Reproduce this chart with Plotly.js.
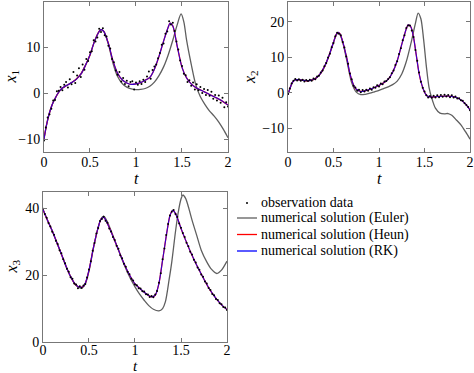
<!DOCTYPE html>
<html>
<head>
<meta charset="utf-8">
<script src="https://cdn.plot.ly/plotly-3.0.1.min.js"></script>
<style>html,body{margin:0;padding:0;background:#fff}#chart{width:474px;height:373px}</style>
</head>
<body>
<div id="chart"></div>
<script>
// ---------- observation times (shared) ----------
const tObs = [0.00,0.02,0.04,0.06,0.08,0.10,0.12,0.14,0.16,0.18,0.20,0.22,0.24,0.26,0.28,0.30,0.32,0.34,0.36,0.38,0.40,0.42,0.44,0.46,0.48,0.50,0.52,0.54,0.56,0.58,0.60,0.62,0.64,0.66,0.68,0.70,0.72,0.74,0.76,0.78,0.80,0.82,0.84,0.86,0.88,0.90,0.92,0.94,0.96,0.98,1.00,1.02,1.04,1.06,1.08,1.10,1.12,1.14,1.16,1.18,1.20,1.22,1.24,1.26,1.28,1.30,1.32,1.34,1.36,1.38,1.40,1.42,1.44,1.46,1.48,1.50,1.52,1.54,1.56,1.58,1.60,1.62,1.64,1.66,1.68,1.70,1.72,1.74,1.76,1.78,1.80,1.82,1.84,1.86,1.88,1.90,1.92,1.94,1.96,1.98,2.00];

// ---------- observation data ----------
const x1Obs = [-10.3,-7.5,-5.3,-4.6,-3.4,-1.6,-1.5,0.4,0.5,1.3,0.6,1.8,2.4,1.2,3.0,1.9,4.6,2.2,3.8,5.4,3.5,6.2,5.1,7.4,7.0,8.9,9.1,11.5,11.2,12.1,14.0,13.3,14.1,12.6,12.3,10.3,9.7,7.4,6.7,4.9,4.0,4.6,2.5,3.3,2.0,2.7,1.5,2.4,2.6,0.8,2.3,1.8,2.6,2.0,2.9,2.4,3.6,4.7,3.1,5.0,5.8,6.2,7.6,8.7,10.5,10.8,12.9,13.4,15.6,14.9,15.3,13.5,11.2,9.5,7.1,5.9,4.2,3.9,2.4,2.8,1.6,2.3,0.8,1.9,0.6,1.3,0.0,0.9,-0.4,0.7,-0.6,0.3,-1.2,-0.4,-1.6,-0.5,-2.1,-1.0,-3.1,-2.0,-2.9];
const x2Obs = [-0.3,1.2,2.6,3.4,3.9,3.5,3.8,3.4,3.7,3.2,3.6,3.3,3.7,3.4,4.0,3.8,4.6,4.8,5.7,6.3,7.5,8.4,9.9,11.0,12.8,14.0,15.9,16.9,16.6,16.2,14.3,12.7,10.2,8.2,5.4,3.8,2.0,1.5,0.6,0.9,0.2,0.8,0.4,0.9,0.6,1.2,0.9,1.6,1.4,2.1,1.8,2.6,2.4,3.2,3.3,3.9,4.4,5.5,6.3,7.8,8.9,10.9,12.5,14.8,16.2,18.2,18.9,18.9,17.5,15.7,12.0,9.0,5.7,3.1,1.4,0.4,-0.7,-1.3,-0.9,-1.4,-0.8,-1.3,-0.7,-1.2,-0.6,-1.1,-0.5,-1.0,-0.6,-1.2,-0.7,-1.3,-1.0,-1.6,-1.5,-2.1,-2.2,-2.9,-3.4,-4.0,-4.9];
const x3Obs = [39.9,38.3,37.2,35.6,34.6,33.0,32.1,30.3,29.3,27.5,26.6,24.8,23.6,21.9,21.0,19.4,18.9,17.5,17.2,16.1,16.7,16.2,16.9,17.4,19.3,21.7,24.2,27.3,29.6,32.5,34.1,36.2,36.8,37.5,36.3,35.7,34.0,33.1,31.4,30.5,28.8,27.9,26.0,25.1,23.4,22.5,21.0,20.3,18.9,18.4,17.2,17.0,16.1,16.0,15.2,15.1,14.3,14.2,13.5,13.8,13.4,14.2,15.3,17.7,20.6,24.8,28.0,32.0,35.3,37.9,39.0,39.5,38.3,37.4,35.5,34.2,32.6,31.4,29.7,28.7,27.0,26.2,24.6,23.8,22.3,21.6,20.2,19.5,18.1,17.5,16.2,15.6,14.4,14.0,12.9,12.6,11.6,11.3,10.5,10.3,9.6];

// ---------- numerical solutions (RK / Heun coincide) ----------
const t1RK = [0,0.025,0.05,0.075,0.1,0.125,0.15,0.175,0.2,0.25,0.3,0.35,0.4,0.45,0.5,0.55,0.6,0.62,0.65,0.7,0.75,0.8,0.85,0.9,0.95,1.0,1.05,1.1,1.15,1.2,1.25,1.3,1.35,1.37,1.4,1.45,1.5,1.55,1.6,1.65,1.7,1.75,1.8,1.85,1.9,1.95,2.0];
const x1RK = [-10,-7.2,-5.0,-3.3,-2.0,-1.0,-0.1,0.6,1.1,1.7,2.3,3.0,4.1,6.0,8.3,11.3,13.4,13.8,13.4,10.8,7.0,4.3,2.9,2.2,1.9,2.0,2.3,2.8,3.4,5.2,8.0,11.3,14.3,15.2,14.6,10.0,5.6,3.3,2.0,1.2,0.7,0.2,-0.3,-0.8,-1.3,-1.9,-2.6];
const t2RK = [0,0.025,0.05,0.075,0.1,0.15,0.2,0.25,0.3,0.35,0.4,0.45,0.5,0.53,0.55,0.57,0.6,0.625,0.65,0.675,0.7,0.725,0.75,0.8,0.85,0.9,0.95,1.0,1.05,1.1,1.15,1.2,1.25,1.3,1.32,1.35,1.38,1.41,1.44,1.47,1.5,1.53,1.57,1.65,1.75,1.8,1.85,1.9,1.95,2.0];
const x2RK = [-0.5,1.5,3.0,3.6,3.7,3.6,3.4,3.5,4.0,5.2,7.3,10.4,14.2,16.4,17.0,16.6,14.5,12.0,9.3,6.0,3.6,1.9,1.0,0.4,0.6,1.0,1.5,2.1,2.8,3.8,5.8,9.0,13.6,18.0,19.1,18.5,15.5,10.5,5.5,2.3,0.2,-0.9,-1.2,-1.0,-0.9,-1.0,-1.3,-2.0,-3.1,-4.8];
const t3RK = [0,0.05,0.1,0.15,0.2,0.25,0.3,0.35,0.4,0.43,0.46,0.5,0.55,0.6,0.63,0.66,0.7,0.75,0.8,0.85,0.9,0.95,1.0,1.05,1.1,1.15,1.18,1.22,1.26,1.3,1.35,1.38,1.41,1.44,1.5,1.55,1.6,1.65,1.7,1.75,1.8,1.85,1.9,1.95,2.0];
const x3RK = [39.7,36.4,33.3,29.8,26.3,22.7,19.6,17.3,16.4,16.5,17.6,21.5,28.5,34.3,36.7,37.3,35.5,32.3,29.0,25.5,22.3,19.6,17.4,16.1,14.9,13.9,13.5,14.0,17.5,24.5,33.5,37.8,39.4,38.5,34.0,30.5,27.2,24.2,21.4,18.8,16.3,14.2,12.4,10.9,9.7];

// ---------- Euler solution ----------
const t1Eu = [0,0.025,0.05,0.075,0.1,0.125,0.15,0.175,0.2,0.25,0.3,0.35,0.4,0.45,0.5,0.55,0.6,0.62,0.65,0.7,0.75,0.8,0.85,0.9,0.95,1.0,1.05,1.1,1.15,1.2,1.25,1.3,1.35,1.4,1.45,1.49,1.52,1.55,1.6,1.65,1.7,1.75,1.8,1.85,1.9,1.95,2.0];
const x1Eu = [-10,-7.2,-5.0,-3.3,-2.0,-1.0,-0.1,0.6,1.1,1.7,2.3,3.0,4.1,6.0,8.3,11.3,13.4,13.8,13.4,10.6,6.5,3.6,2.1,1.3,0.9,0.75,0.8,1.0,1.5,2.4,3.8,5.7,8.3,11.5,15.0,17.2,15.5,11.5,6.3,1.8,-0.8,-2.5,-3.9,-5.0,-6.3,-7.9,-9.7];
const t2Eu = [0,0.025,0.05,0.075,0.1,0.15,0.2,0.25,0.3,0.35,0.4,0.45,0.5,0.53,0.55,0.57,0.6,0.625,0.65,0.7,0.75,0.8,0.85,0.9,0.95,1.0,1.05,1.1,1.15,1.2,1.25,1.3,1.35,1.4,1.43,1.46,1.49,1.52,1.55,1.58,1.62,1.67,1.72,1.76,1.8,1.85,1.9,1.95,2.0];
const x2Eu = [-0.5,1.5,3.0,3.6,3.7,3.6,3.4,3.5,4.0,5.2,7.3,10.4,14.2,16.3,16.8,16.4,14.3,11.6,8.6,2.8,0.2,-0.5,-0.4,-0.1,0.3,0.7,1.2,1.7,2.3,3.3,5.3,8.8,13.8,19.5,22.4,20.8,15.0,7.5,1.5,-1.5,-4.3,-5.7,-5.9,-5.8,-6.3,-7.6,-9.0,-10.9,-13.0];
const t3Eu = [0,0.05,0.1,0.15,0.2,0.25,0.3,0.35,0.4,0.43,0.46,0.5,0.55,0.6,0.63,0.66,0.7,0.75,0.8,0.85,0.9,0.95,1.0,1.05,1.1,1.15,1.2,1.26,1.3,1.33,1.37,1.4,1.44,1.47,1.5,1.52,1.55,1.58,1.62,1.67,1.72,1.78,1.83,1.89,1.94,2.0];
const x3Eu = [39.7,36.4,33.3,29.8,26.3,22.7,19.6,17.2,16.2,16.3,17.4,21.2,28.3,34.3,36.9,37.7,36.0,32.6,29.0,25.4,22.0,19.0,16.5,14.3,12.5,10.9,9.8,9.3,10.0,12.0,18.5,24.0,33.0,38.8,42.8,44.0,43.0,40.5,36.5,32.0,27.5,24.0,21.8,20.5,21.5,24.2];

// ---------- labels ----------
const legendNames = ['observation data','numerical solution (Euler)','numerical solution (Heun)','numerical solution (RK)'];
const xTickVals = [0,0.5,1,1.5,2];
const xTickText = ['0','0.5','1','1.5','2'];
const xTitle = '<i>t</i>';
const yTitles = ['<i>x</i><sub>1</sub>','<i>x</i><sub>2</sub>','<i>x</i><sub>3</sub>'];

const FONT = 'Liberation Serif';
const cEuler = '#5f5f5f', cHeun = '#ff0000', cRK = '#0000ff';
const W = 474, H = 373;
const px = v => v / W, py = v => (H - v) / H;

const sets = [
  {xa:'x', ya:'y', tRK:t1RK, vRK:x1RK, tEu:t1Eu, vEu:x1Eu, obs:x1Obs},
  {xa:'x2', ya:'y2', tRK:t2RK, vRK:x2RK, tEu:t2Eu, vEu:x2Eu, obs:x2Obs},
  {xa:'x3', ya:'y3', tRK:t3RK, vRK:x3RK, tEu:t3Eu, vEu:x3Eu, obs:x3Obs}
];
const data = [];
sets.forEach((s) => {
  data.push({x:s.tEu, y:s.vEu, xaxis:s.xa, yaxis:s.ya, mode:'lines', line:{color:cEuler, width:1.3, shape:'spline', smoothing:0.8},
             name:legendNames[1], showlegend:false, hoverinfo:'skip'});
  data.push({x:s.tRK, y:s.vRK, xaxis:s.xa, yaxis:s.ya, mode:'lines', line:{color:cHeun, width:1.3, shape:'spline', smoothing:0.8},
             name:legendNames[2], showlegend:false, hoverinfo:'skip'});
  data.push({x:s.tRK, y:s.vRK, xaxis:s.xa, yaxis:s.ya, mode:'lines', line:{color:cRK, width:1.1, shape:'spline', smoothing:0.8},
             opacity:0.8, name:legendNames[3], showlegend:false, hoverinfo:'skip'});
  data.push({x:tObs, y:s.obs, xaxis:s.xa, yaxis:s.ya, mode:'markers', marker:{color:'#000', size:2},
             name:legendNames[0], showlegend:false, hoverinfo:'skip'});
});

function xax(domain, anchor, standoff) {
  return {domain:domain, anchor:anchor, range:[0,2], tickvals:xTickVals, ticktext:xTickText,
    showline:true, mirror:'ticks', linecolor:'#777', linewidth:1, ticks:'inside', ticklen:4, tickcolor:'#777',
    showgrid:false, zeroline:false, tickfont:{family:FONT, size:14, color:'#000'}, ticklabelstandoff:standoff};
}
function yax(domain, anchor, range, dtick) {
  return {domain:domain, anchor:anchor, range:range, dtick:dtick, tick0:0,
    showline:true, mirror:'ticks', linecolor:'#777', linewidth:1, ticks:'inside', ticklen:4, tickcolor:'#777',
    showgrid:false, zeroline:false, tickfont:{family:FONT, size:14, color:'#000'}};
}

// axis titles (as annotations placed by pixel)
const annotations = [];
const titleFont = {family:FONT, size:16, color:'#000'};
[[136,178,16],[379,178,16],[135,365.5,15]].forEach(p => annotations.push({xref:'paper', yref:'paper', x:px(p[0]), y:py(p[1]),
  xanchor:'center', yanchor:'middle', text:xTitle, showarrow:false, font:{family:FONT, size:p[2], color:'#000'}}));
[[10.5,77],[250,77],[11.5,267]].forEach((p, i) => annotations.push({xref:'paper', yref:'paper', x:px(p[0]), y:py(p[1]),
  xanchor:'center', yanchor:'middle', text:yTitles[i], textangle:-90, showarrow:false, font:titleFont}));

// legend (drawn by hand to match compact spacing)
const legY = [202, 218, 234.5, 251];
const legColors = [null, cEuler, cHeun, cRK];
const shapes = [];
legendNames.forEach((name, i) => {
  annotations.push({xref:'paper', yref:'paper', x:px(259), y:py(legY[i]), xanchor:'left', yanchor:'middle',
    text:name, showarrow:false, font:{family:FONT, size:14, color:'#000'}});
  if (i === 0) {
    shapes.push({type:'circle', xref:'paper', yref:'paper', x0:px(246), x1:px(248), y0:py(legY[i]+2), y1:py(legY[i]),
      fillcolor:'#000', line:{width:0}});
  } else {
    shapes.push({type:'line', xref:'paper', yref:'paper', x0:px(237), x1:px(257), y0:py(legY[i]), y1:py(legY[i]),
      line:{color:legColors[i], width:1.3}});
  }
});

const layout = {
  width:W, height:H, margin:{l:0, r:0, t:0, b:0},
  paper_bgcolor:'#fff', plot_bgcolor:'#fff', font:{family:FONT, color:'#000'},
  xaxis: xax([0.0928, 0.481], 'y', -3),
  yaxis: yax([0.5925, 0.9946], 'x', [-12.8, 19.8], 10),
  xaxis2: xax([0.6076, 0.9916], 'y2', -3),
  yaxis2: yax([0.5925, 0.9946], 'x2', [-16.6, 25.5], 10),
  xaxis3: xax([0.0907, 0.4789], 'y3', -5),
  yaxis3: yax([0.0831, 0.4861], 'x3', [0, 45], 20),
  showlegend:false,
  annotations: annotations,
  shapes: shapes
};

Plotly.newPlot('chart', data, layout, {displayModeBar:false, staticPlot:true});
</script>
</body>
</html>
